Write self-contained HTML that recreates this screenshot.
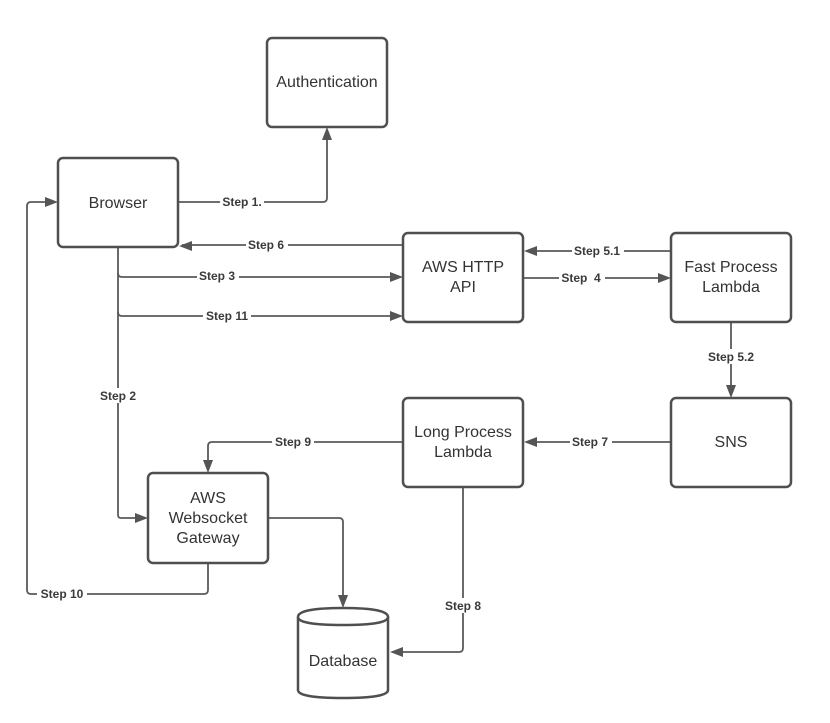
<!DOCTYPE html>
<html><head><meta charset="utf-8"><style>
html,body{margin:0;padding:0;background:#fff;}
svg{display:block;}
.b{fill:#fff;stroke:#4f4f4f;stroke-width:2.5;}
.l{fill:none;stroke:#5a5a5a;stroke-width:1.8;stroke-linejoin:round;}
.t{font-family:"Liberation Sans",sans-serif;font-size:16px;fill:#333;text-anchor:middle;}
.s{font-family:"Liberation Sans",sans-serif;font-size:12px;font-weight:bold;fill:#3a3a3a;text-anchor:middle;}
.a{fill:#555;}
</style></head><body>
<svg width="830" height="723" viewBox="0 0 830 723">
<!-- connectors -->
<path class="l" d="M178 202 H323 Q327 202 327 198 V130"/>
<polygon class="a" points="327,127 322,140 332,140"/>
<path class="l" d="M403 245 H182"/>
<polygon class="a" points="179,246 192,241 192,251"/>
<path class="l" d="M118 247 V515 Q118 518 121 518 H145"/>
<polygon class="a" points="148,518 135,513 135,523"/>
<path class="l" d="M118 273 Q118 277 122 277 H400"/>
<polygon class="a" points="403,277 390,272 390,282"/>
<path class="l" d="M118 312 Q118 316 122 316 H400"/>
<polygon class="a" points="403,316 390,311 390,321"/>
<path class="l" d="M671 251 H527"/>
<polygon class="a" points="524,251 537,246 537,256"/>
<path class="l" d="M523 278 H668"/>
<polygon class="a" points="671,278 658,273 658,283"/>
<path class="l" d="M731 322 V395"/>
<polygon class="a" points="731,398 726,385 736,385"/>
<path class="l" d="M671 442 H527"/>
<polygon class="a" points="524,442 537,437 537,447"/>
<path class="l" d="M403 442 H212 Q208 442 208 446 V470"/>
<polygon class="a" points="208,473 203,460 213,460"/>
<path class="l" d="M208 563 V590 Q208 594 204 594 H31 Q27 594 27 590 V206 Q27 202 31 202 H55"/>
<polygon class="a" points="58,202 45,197 45,207"/>
<path class="l" d="M268 518 H339 Q343 518 343 522 V605"/>
<polygon class="a" points="343,608 338,595 348,595"/>
<path class="l" d="M463 487 V648 Q463 652 459 652 H393"/>
<polygon class="a" points="390,652 403,647 403,657"/>
<!-- labels -->
<g>
<rect x="220" y="194" width="44" height="15" fill="#fff"/><text class="s" x="242" y="206">Step 1.</text>
<rect x="246" y="238" width="42" height="15" fill="#fff"/><text class="s" x="266" y="249">Step 6</text>
<rect x="197" y="269" width="42" height="15" fill="#fff"/><text class="s" x="217" y="280">Step 3</text>
<rect x="203" y="308" width="48" height="15" fill="#fff"/><text class="s" x="227" y="320">Step 11</text>
<rect x="97" y="388" width="44" height="15" fill="#fff"/><text class="s" x="118" y="400">Step 2</text>
<rect x="572" y="243" width="52" height="15" fill="#fff"/><text class="s" x="597" y="255">Step 5.1</text>
<rect x="559" y="270" width="46" height="15" fill="#fff"/><text class="s" x="581" y="282" xml:space="preserve">Step  4</text>
<rect x="705" y="349" width="54" height="15" fill="#fff"/><text class="s" x="731" y="361">Step 5.2</text>
<rect x="570" y="434" width="42" height="15" fill="#fff"/><text class="s" x="590" y="446">Step 7</text>
<rect x="272" y="434" width="42" height="15" fill="#fff"/><text class="s" x="293" y="446">Step 9</text>
<rect x="37" y="586" width="50" height="15" fill="#fff"/><text class="s" x="62" y="598">Step 10</text>
<rect x="442" y="598" width="42" height="15" fill="#fff"/><text class="s" x="463" y="610">Step 8</text>
</g>
<!-- boxes -->
<rect class="b" x="267" y="38" width="120" height="89" rx="5"/>
<text class="t" x="327" y="87">Authentication</text>
<rect class="b" x="58" y="158" width="120" height="89" rx="5"/>
<text class="t" x="118" y="208">Browser</text>
<rect class="b" x="403" y="233" width="120" height="89" rx="5"/>
<text class="t" x="463" y="272">AWS HTTP</text><text class="t" x="463" y="292">API</text>
<rect class="b" x="671" y="233" width="120" height="89" rx="5"/>
<text class="t" x="731" y="272">Fast Process</text><text class="t" x="731" y="292">Lambda</text>
<rect class="b" x="671" y="398" width="120" height="89" rx="5"/>
<text class="t" x="731" y="447">SNS</text>
<rect class="b" x="403" y="398" width="120" height="89" rx="5"/>
<text class="t" x="463" y="437">Long Process</text><text class="t" x="463" y="457">Lambda</text>
<rect class="b" x="148" y="473" width="120" height="90" rx="5"/>
<text class="t" x="208" y="503">AWS</text><text class="t" x="208" y="523">Websocket</text><text class="t" x="208" y="543">Gateway</text>
<!-- database -->
<path class="b" d="M298 617 Q298 608 343 608 Q388 608 388 617 V690 Q388 698 343 698 Q298 698 298 690 Z"/>
<path class="l" d="M298 617 Q298 625 343 625 Q388 625 388 617" style="stroke:#4f4f4f;stroke-width:2.5"/>
<text class="t" x="343" y="666">Database</text>
</svg>
</body></html>
